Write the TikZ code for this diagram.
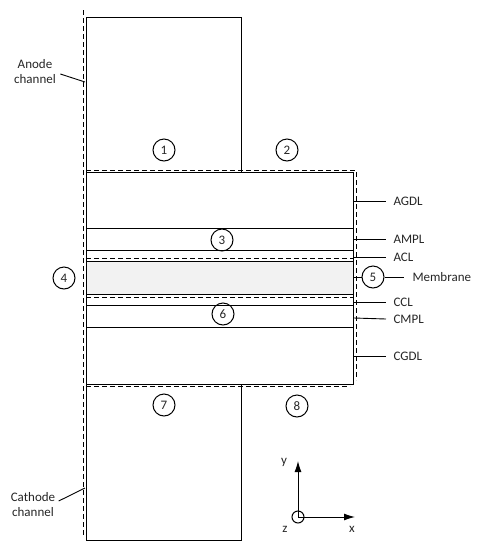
\documentclass[tikz,border=0pt]{standalone}
\usepackage{fontspec}
\setmainfont{Carlito}
\usetikzlibrary{arrows.meta}
\begin{document}
\begin{tikzpicture}[x=1pt,y=-1pt,line width=1pt,
  txt/.style={inner sep=0pt,text=black!85,font=\fontsize{13}{15}\selectfont},
  num/.style={draw,circle,minimum size=22pt,inner sep=0pt,txt},
  lbl/.style={anchor=west,txt},
  bnd/.style={dash pattern=on 5pt off 3pt,line width=1pt},
  leader/.style={line width=0.9pt},
  axis/.style={-{Latex[length=11pt,width=7pt]},line width=1pt}]
\useasboundingbox (0,0) rectangle (481,550);
% membrane fill
\fill[gray!10] (86,261) rectangle (353,294);
% channels and layers
\draw (86,17) rectangle (241,172);
\draw (86,172) rectangle (353,384);
\draw (86,228) -- (353,228);
\draw (86,250) -- (353,250);
\draw (86,261) -- (353,261);
\draw (86,294) -- (353,294);
\draw (86,305) -- (353,305);
\draw (86,327) -- (353,327);
\draw (86,384) rectangle (241,540);
% boundaries
\draw[bnd] (83,10) -- (83,537);
\draw[bnd] (86,170) -- (356,170) -- (356,380);
\draw[bnd] (86,386) -- (350,386);
\draw[bnd] (86,258.5) -- (353,258.5);
\draw[bnd] (86,297.5) -- (353,297.5);
% numbered circles
\node[num] (n1) at (164,150) {1};
\node[num] (n2) at (287,150) {2};
\node[num] (n3) at (222,240) {3};
\node[num] (n4) at (64,278) {4};
\node[num] (n5) at (373,277) {5};
\node[num] (n6) at (223,314) {6};
\node[num] (n7) at (164,405) {7};
\node[num] (n8) at (297,406) {8};
% right labels
\node[lbl] (agdl) at (393,201) {AGDL};
\node[lbl] (ampl) at (393,239) {AMPL};
\node[lbl] (acl) at (393,257) {ACL};
\node[lbl] (mem) at (412,277) {Membrane};
\node[lbl] (ccl) at (393,302) {CCL};
\node[lbl] (cmpl) at (393,319) {CMPL};
\node[lbl] (cgdl) at (393,356) {CGDL};
\coordinate (cagdl) at (354,201);
\coordinate (campl) at (354,239);
\coordinate (cacl) at (354,257);
\coordinate (cmem) at (354,277);
\coordinate (cccl) at (354,302);
\coordinate (ccmpl) at (354,318);
\coordinate (ccgdl) at (354,356);
\draw[leader] (cagdl) -- ([xshift=-7pt]agdl.west);
\draw[leader] (campl) -- ([xshift=-7pt]ampl.west);
\draw[leader] (cacl) -- ([xshift=-7pt]acl.west);
\draw[leader] (cmem) -- (n5.west);
\draw[leader] (n5.east) -- ([xshift=-8pt]mem.west);
\draw[leader] (cccl) -- ([xshift=-7pt]ccl.west);
\draw[leader] (ccmpl) -- ([xshift=-7pt]cmpl.west);
\draw[leader] (ccgdl) -- ([xshift=-7pt]cgdl.west);
% channel labels
\node[txt,align=center] (anode) at (35,72) {Anode\\channel};
\node[txt,align=center] (cathode) at (33,505) {Cathode\\channel};
\coordinate (canode) at (85,82);
\coordinate (ccathode) at (85,488);
\draw[leader] ([xshift=4pt,yshift=-2pt]anode.east) -- (canode);
\draw[leader] ([xshift=3pt,yshift=4pt]cathode.east) -- (ccathode);
% axes
\node[draw,circle,minimum size=12pt,inner sep=0pt] (o) at (298,517) {};
\coordinate (yend) at (298,461);
\coordinate (xend) at (355,517);
\draw[axis] (o.center) -- (yend);
\draw[axis] (o.center) -- (xend);
\node[txt] (ylab) at (284,462) {y};
\node[txt] (xlab) at (352,529) {x};
\node[txt] (zlab) at (285,529) {z};
\end{tikzpicture}
\end{document}
